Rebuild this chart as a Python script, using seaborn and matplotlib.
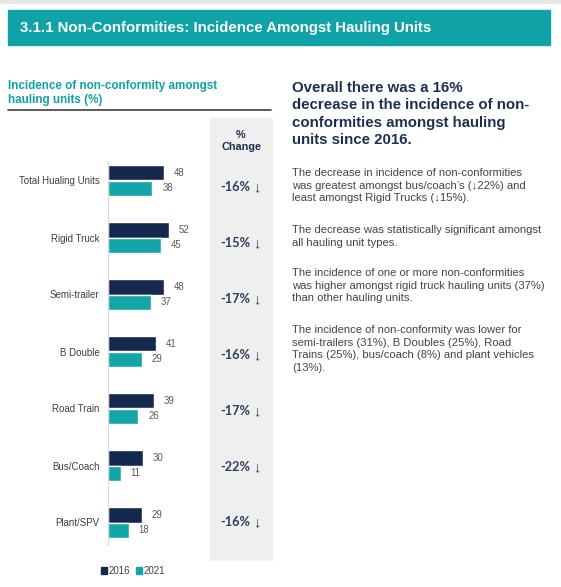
import numpy as np
import pandas as pd
import matplotlib.pyplot as plt
import seaborn as sns
from matplotlib.patches import Rectangle, Patch
from matplotlib.transforms import blended_transform_factory

# ---- data ----
categories = ["Total Hualing Units", "Rigid Truck", "Semi-trailer", "B Double",
              "Road Train", "Bus/Coach", "Plant/SPV"]
years = ["2016", "2021"]
v2016 = [48, 52, 48, 41, 39, 30, 29]
v2021 = [38, 45, 37, 29, 26, 11, 18]
pct_change = ["-16%", "-15%", "-17%", "-16%", "-17%", "-22%", "-16%"]

NAVY = "#14294D"
TEAL = "#13A5A8"
HEAD_TEAL = "#0FA3A7"
TXT_NAVY = "#1E2E52"
GREY_TXT = "#444444"

W, H = 561, 587

sns.set_theme(style="white")
plt.rcParams['font.family'] = ['Liberation Sans', 'DejaVu Sans']

fig = plt.figure(figsize=(W / 100, H / 100), dpi=100)


def fx(x):
    return x / W


def fy(y):
    return 1 - y / H


# page edge + header band
fig.patches.append(Rectangle((0, fy(3)), 1, 3 / H, transform=fig.transFigure,
                             color="#E6E6E6", zorder=0))
fig.patches.append(Rectangle((fx(8), fy(45)), fx(550) - fx(8), 35 / H,
                             transform=fig.transFigure, color=HEAD_TEAL, zorder=0))
fig.text(fx(20), fy(28), "3.1.1 Non-Conformities: Incidence Amongst Hauling Units",
         color="white", fontsize=10.8, fontweight="bold", va="center", ha="left")

# chart subtitle and rule
fig.text(fx(8), fy(93), "Incidence of non-conformity amongst\nhauling units (%)",
         color=HEAD_TEAL, fontsize=8.4, fontweight="bold", va="center", ha="left",
         linespacing=1.28)
fig.add_artist(plt.Line2D([fx(8), fx(271)], [fy(110), fy(110)],
                          transform=fig.transFigure, color="#404040", lw=1.2))

# grey "% change" column
fig.patches.append(Rectangle((fx(210), fy(560)), fx(272) - fx(210), 442 / H,
                             transform=fig.transFigure, color="#EFEFEF", zorder=0))
fig.text(fx(241), fy(141), "%\nChange", color=TXT_NAVY, fontsize=7.8,
         fontweight="bold", ha="center", va="center", linespacing=1.2, zorder=2)

# ---- bar chart ----
df = pd.DataFrame({
    "cat": categories * 2,
    "year": [years[0]] * len(categories) + [years[1]] * len(categories),
    "value": v2016 + v2021,
})

ax = fig.add_axes([fx(108), fy(551), 100 / W, 399 / H])
ax.set_zorder(2)
sns.barplot(data=df, y="cat", x="value", hue="year", orient="h",
            palette=[NAVY, TEAL], width=0.53, ax=ax, legend=False,
            saturation=1)
ax.set_xlim(0, 100 / 1.17)
ax.set_ylim(6.5, -0.5)
ax.set_xlabel("")
ax.set_ylabel("")
ax.set_xticks([])
ax.tick_params(axis="y", length=0, pad=6, labelsize=7, labelcolor="#404040")
ax.set_facecolor("none")
for s in ["top", "right", "bottom"]:
    ax.spines[s].set_visible(False)
ax.spines["left"].set_color("#D9D9D9")
ax.spines["left"].set_linewidth(0.8)
ax.spines["left"].set_bounds(-0.35, 6.4)

for cont in ax.containers:
    ax.bar_label(cont, padding=7, fontsize=6.9, color="#595959")

# % change column, x in figure coords, y in data coords
trans = blended_transform_factory(fig.transFigure, ax.transData)
for i, lab in enumerate(pct_change):
    yy = i + 0.12 - 0.02 * i
    ax.text(fx(250), yy, lab, transform=trans,
            ha="right", va="center", fontsize=9.2, fontweight="bold",
            color="#2B3E63", family=["Lato", "DejaVu Sans"], clip_on=False)
    ax.text(fx(253), yy, "\u2193", transform=trans,
            ha="left", va="center", fontsize=10.5, color="#2B3E63", clip_on=False)

# legend
handles = [Patch(color=NAVY, label="2016"), Patch(color=TEAL, label="2021")]
fig.legend(handles=handles, loc="center", bbox_to_anchor=(fx(133), fy(571)),
           ncol=2, frameon=False, fontsize=7, handlelength=0.6, handleheight=0.6,
           handletextpad=0.2, columnspacing=0.6, labelcolor="#404040")

# ---- right-hand commentary ----
fig.text(fx(292), fy(81),
         "Overall there was a 16%\ndecrease in the incidence of non-\n"
         "conformities amongst hauling\nunits since 2016.",
         color=TXT_NAVY, fontsize=10.8, fontweight="bold", va="top", ha="left",
         linespacing=1.3)

paras = [
    (168, "The decrease in incidence of non-conformities\n"
          "was greatest amongst bus/coach\u2019s (\u219322%) and\n"
          "least amongst Rigid Trucks (\u219315%)."),
    (225, "The decrease was statistically significant amongst\n"
          "all hauling unit types."),
    (268, "The incidence of one or more non-conformities\n"
          "was higher amongst rigid truck hauling units (37%)\n"
          "than other hauling units."),
    (325, "The incidence of non-conformity was lower for\n"
          "semi-trailers (31%), B Doubles (25%), Road\n"
          "Trains (25%), bus/coach (8%) and plant vehicles\n"
          "(13%)."),
]
for y, txt in paras:
    fig.text(fx(292), fy(y), txt, color=GREY_TXT, fontsize=8.1, va="top",
             ha="left", linespacing=1.32)

fig.savefig("out.png", dpi=100, facecolor="white")
